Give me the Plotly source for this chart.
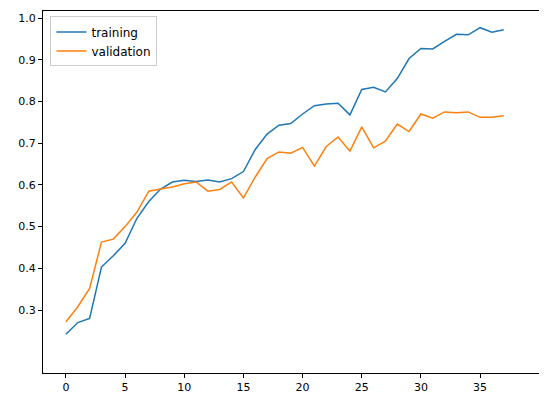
import plotly.graph_objects as go

epochs = list(range(38))
training = [0.242, 0.27, 0.28, 0.403, 0.43, 0.46, 0.52, 0.56, 0.59, 0.607,
            0.611, 0.608, 0.612, 0.607, 0.615, 0.632, 0.685, 0.722, 0.743, 0.747,
            0.77, 0.79, 0.794, 0.796, 0.768, 0.829, 0.834, 0.823, 0.855, 0.903,
            0.927, 0.926, 0.944, 0.961, 0.96, 0.977, 0.966, 0.972]
validation = [0.272, 0.308, 0.352, 0.463, 0.47, 0.5, 0.535, 0.585, 0.59, 0.595,
              0.603, 0.607, 0.585, 0.589, 0.607, 0.569, 0.619, 0.663, 0.679, 0.676,
              0.69, 0.645, 0.692, 0.715, 0.681, 0.739, 0.689, 0.705, 0.746, 0.728,
              0.77, 0.76, 0.775, 0.773, 0.775, 0.762, 0.762, 0.766]

fig = go.Figure()
fig.add_trace(go.Scatter(x=epochs, y=training, mode="lines", name="training",
                         line=dict(color="#1f77b4", width=1.5)))
fig.add_trace(go.Scatter(x=epochs, y=validation, mode="lines", name="validation",
                         line=dict(color="#ff7f0e", width=1.5)))

axis = dict(showgrid=False, zeroline=False, showline=True, mirror=True,
            linecolor="black", linewidth=1, ticks="outside", ticklen=4,
            tickcolor="black", tickfont=dict(size=11, color="black"),
            automargin=False)
fig.update_layout(
    width=547, height=413,
    margin=dict(l=35, r=14, t=3, b=48),
    plot_bgcolor="white", paper_bgcolor="white",
    font=dict(family="DejaVu Sans", color="black"),
    xaxis=dict(range=[-1.94, 40.15], tickvals=[0, 5, 10, 15, 20, 25, 30, 35], **axis),
    yaxis=dict(range=[0.149, 1.017], tickvals=[0.3, 0.4, 0.5, 0.6, 0.7, 0.8, 0.9, 1.0],
               ticktext=["0.3", "0.4", "0.5", "0.6", "0.7", "0.8", "0.9", "1.0"], **axis),
    legend=dict(x=0.015, y=0.985, xanchor="left", yanchor="top",
                bordercolor="#cccccc", borderwidth=1, bgcolor="white",
                font=dict(size=12)),
)
fig.write_html("out.html")
